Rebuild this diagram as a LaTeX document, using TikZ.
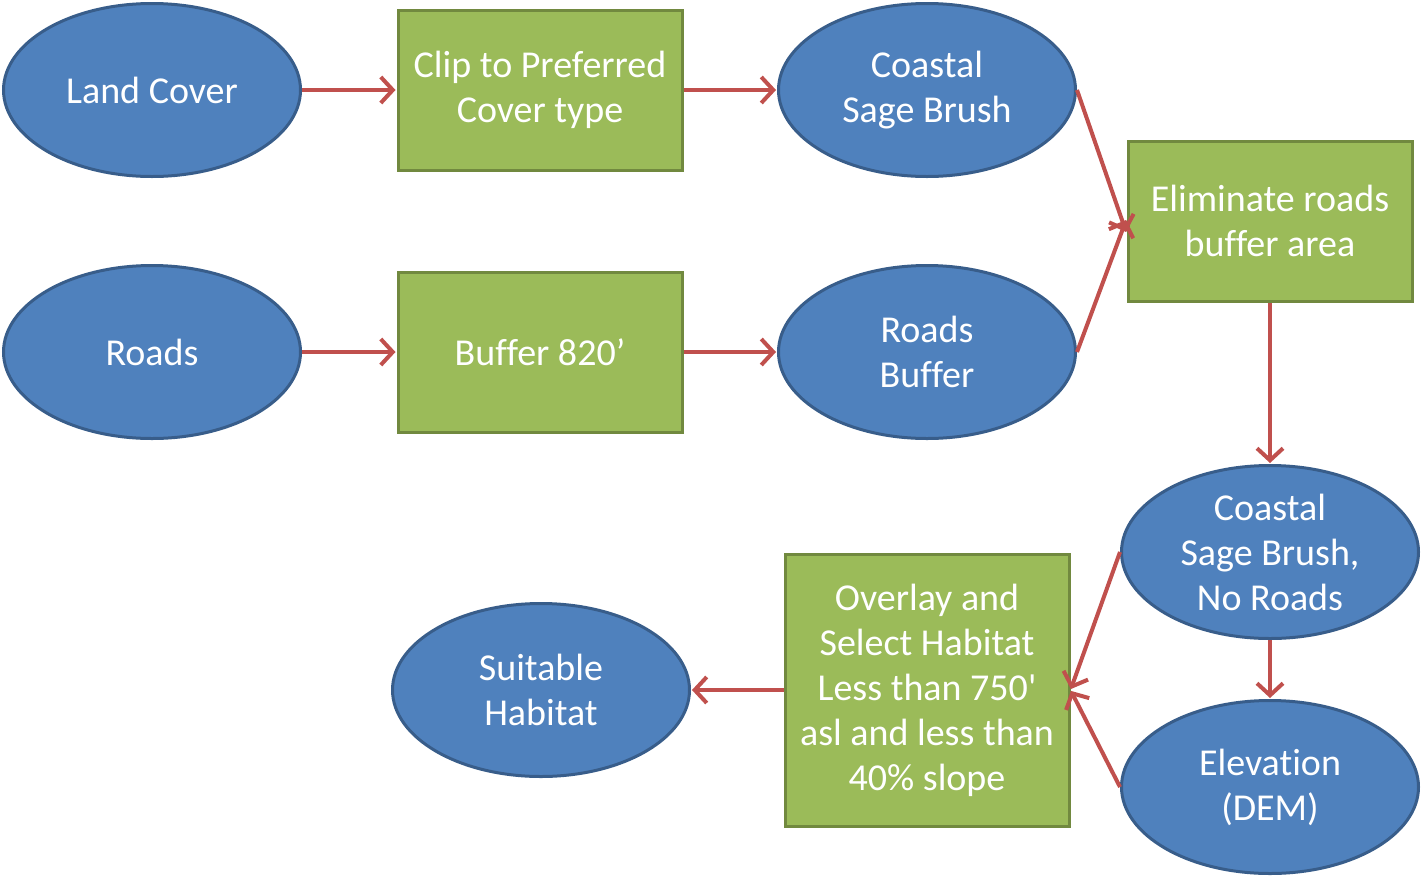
\documentclass[tikz,border=0pt]{standalone}
\usepackage{fontspec}
\setmainfont[Ligatures=NoCommon]{Carlito}
\newfontfamily\plainq[Mapping=]{Carlito}
\usetikzlibrary{shapes.geometric,arrows.meta}
\definecolor{ellfill}{HTML}{4F81BD}
\definecolor{elldraw}{HTML}{385D8A}
\definecolor{boxfill}{HTML}{9BBB59}
\definecolor{boxdraw}{HTML}{71893F}
\definecolor{arr}{HTML}{C0504D}
\tikzset{
  txt/.style={text=white, align=center, font=\fontsize{38}{45}\selectfont},
  ell/.style={txt, ellipse, fill=ellfill, draw=elldraw, line width=3pt, minimum width=297pt, minimum height=173pt, inner sep=0pt},
  box/.style={txt, rectangle, fill=boxfill, draw=boxdraw, line width=3pt, minimum width=284pt, minimum height=160pt, inner sep=0pt},
  conn/.style={draw=arr, line width=4pt, -{Straight Barb[length=12pt,width=26pt,line width=4pt]}, shorten >=1pt},
}
\begin{document}
\begin{tikzpicture}[x=1pt,y=-1pt]
\useasboundingbox (0,0) rectangle (1422,876);
\node[ell] (lc) at (152,90) {Land Cover};
\node[box] (clip) at (540,90) {Clip to Preferred\\Cover type};
\node[ell] (csb) at (927,90) {Coastal\\Sage Brush};
\node[ell] (roads) at (152,352) {Roads};
\node[box] (buf) at (540,352) {Buffer 820’};
\node[ell] (rb) at (927,352) {Roads\\Buffer};
\node[box] (elim) at (1270,221) {Eliminate roads\\buffer area};
\node[ell] (csbnr) at (1270,552) {Coastal\\Sage Brush,\\No Roads};
\node[ell] (elev) at (1270,787) {Elevation\\(DEM)};
\node[box, minimum height=272pt] (over) at (927,690) {Overlay and\\Select Habitat\\Less than 750{\plainq '}\\asl and less than\\40\% slope};
\node[ell] (suit) at (541,690) {Suitable\\Habitat};
\coordinate (e1) at ([yshift=-12pt]elim.west);
\coordinate (e2) at ([yshift=2pt]elim.west);
\draw[conn] (lc.east) -- (clip.west);
\draw[conn] (clip.east) -- (csb.west);
\draw[conn] (roads.east) -- (buf.west);
\draw[conn] (buf.east) -- (rb.west);
\draw[conn] (csb.east) -- (e1);
\draw[conn] (rb.east) -- (e2);
\draw[conn] (elim.south) -- (csbnr.north);
\draw[conn] (csbnr.west) -- (over.east);
\draw[conn] (elev.west) -- (over.east);
\draw[conn] (csbnr.south) -- (elev.north);
\draw[conn] (over.west) -- (suit.east);
\end{tikzpicture}
\end{document}
